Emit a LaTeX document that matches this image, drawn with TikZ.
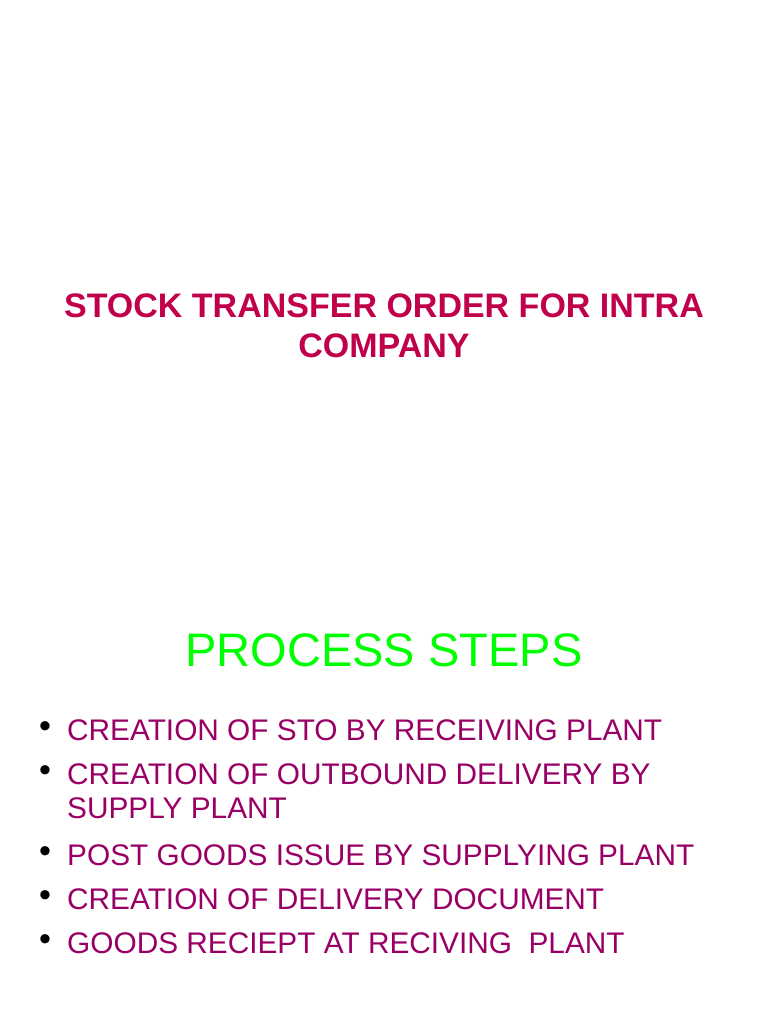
\documentclass[tikz,border=0pt]{standalone}
\usepackage{fontspec}
\setmainfont{Liberation Sans}
\definecolor{ttl}{HTML}{C0004A}
\definecolor{grn}{HTML}{00FF00}
\definecolor{itm}{HTML}{990066}
\begin{document}
\begin{tikzpicture}[x=1pt,y=1pt,
  ttlnode/.style={text=ttl,font=\fontsize{34}{40}\selectfont\bfseries,align=center},
  item/.style={anchor=west,text=itm,font=\fontsize{29.8}{34}\selectfont,align=left,inner sep=0pt},
  bul/.style={anchor=center,font=\fontsize{34}{34}\selectfont,inner sep=0pt}]
\useasboundingbox (0,0) rectangle (768,-1024);
\node[ttlnode] (title) at (384,-326) {STOCK TRANSFER ORDER FOR INTRA\\COMPANY};
\node[text=grn,font=\fontsize{47}{50}\selectfont] (ps) at (384,-650) {PROCESS STEPS};
\node[item] (i1) at (67,-730) {CREATION OF STO BY RECEIVING PLANT};
\node[item] (i2) at (67,-791) {CREATION OF OUTBOUND DELIVERY BY\\SUPPLY PLANT};
\node[item] (i3) at (67,-855) {POST GOODS ISSUE BY SUPPLYING PLANT};
\node[item] (i4) at (67,-899) {CREATION OF DELIVERY DOCUMENT};
\node[item] (i5) at (67,-943) {GOODS RECIEPT AT RECIVING\ \ PLANT};
\foreach \y in {730,774,855,899,943}{\node[bul] at (45,-\y) {•};}
\end{tikzpicture}
\end{document}
